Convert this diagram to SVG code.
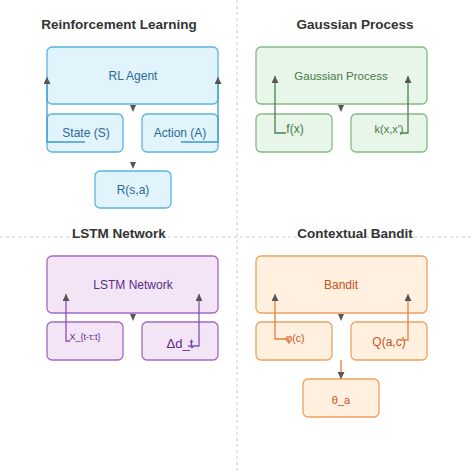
<svg xmlns="http://www.w3.org/2000/svg" width="474" height="474" viewBox="0 0 474 474">
<style>
.title{font-family:"Liberation Sans",Arial,sans-serif;font-size:13.5px;font-weight:bold;fill:#333;text-anchor:middle}
.t{font-family:"Liberation Sans",Arial,sans-serif;font-size:12px;text-anchor:middle;dominant-baseline:central}
.blue rect{fill:#e1f3fb;stroke:#5ab4e0;stroke-width:1.3}
.blue text{fill:#2a6a96}
.green rect{fill:#e8f5e9;stroke:#82bb85;stroke-width:1.3}
.green text{fill:#467a47}
.purple rect{fill:#f3e5f5;stroke:#a468c4;stroke-width:1.3}
.purple text{fill:#5b2c86}
.orange rect{fill:#fff0e0;stroke:#f0a05e;stroke-width:1.3}
.orange text{fill:#c4521c}
.div{stroke:#cccccc;stroke-width:1;stroke-dasharray:3,3;fill:none}
.c{fill:none;stroke-width:1.3;marker-end:url(#ah)}
.head{fill:#555}
</style>
<defs>
<marker id="ah" markerWidth="7" markerHeight="7" refX="7" refY="3.5" orient="auto" markerUnits="userSpaceOnUse">
<path d="M0,0 L7,3.5 L0,7 z" fill="#555"/>
</marker>
</defs>
<rect width="474" height="474" fill="#ffffff"/>
<g id="dividers">
<line class="div" x1="237" y1="0" x2="237" y2="474"/>
<line class="div" x1="0" y1="237" x2="474" y2="237"/>
</g>
<g id="titles">
<text class="title" x="119" y="29">Reinforcement Learning</text>
<text class="title" x="355" y="29">Gaussian Process</text>
<text class="title" x="119" y="238">LSTM Network</text>
<text class="title" x="355" y="238">Contextual Bandit</text>
</g>
<g id="rl-agent" class="blue"><rect x="47" y="47" width="171" height="57" rx="5"/><text class="t" x="133" y="76">RL Agent</text></g>
<g id="state" class="blue"><rect x="47" y="114" width="76" height="38" rx="5"/><text class="t" x="86" y="133">State (S)</text></g>
<g id="action" class="blue"><rect x="142" y="114" width="76" height="38" rx="5"/><text class="t" x="180" y="133">Action (A)</text></g>
<g id="reward" class="blue"><rect x="95" y="171" width="76" height="37" rx="5"/><text class="t" x="133" y="190">R(s,a)</text></g>
<g id="gp" class="green"><rect x="256" y="47" width="171" height="57" rx="5"/><text class="t" x="341" y="76" style="font-size:11.5px">Gaussian Process</text></g>
<g id="fx" class="green"><rect x="256" y="114" width="76" height="38" rx="5"/><text class="t" x="295" y="129">f(x)</text></g>
<g id="kxx" class="green"><rect x="351" y="114" width="76" height="38" rx="5"/><text class="t" x="389" y="129" style="font-size:11px">k(x,x')</text></g>
<g id="lstm" class="purple"><rect x="47" y="256" width="171" height="57" rx="5"/><text class="t" x="133" y="285">LSTM Network</text></g>
<g id="xin" class="purple"><rect x="47" y="322" width="76" height="38" rx="5"/><text class="t" x="85" y="337" style="font-size:9px">X_{t-τ:t}</text></g>
<g id="dd" class="purple"><rect x="142" y="322" width="76" height="38" rx="5"/><text class="t" x="180" y="343" style="font-size:13px">Δd_t</text></g>
<g id="bandit" class="orange"><rect x="256" y="256" width="171" height="57" rx="5"/><text class="t" x="341" y="285">Bandit</text></g>
<g id="phi" class="orange"><rect x="256" y="322" width="76" height="38" rx="5"/><text class="t" x="295" y="338" style="font-size:10.5px">φ(c)</text></g>
<g id="q" class="orange"><rect x="351" y="322" width="76" height="38" rx="5"/><text class="t" x="389" y="342">Q(a,c)</text></g>
<g id="theta" class="orange"><rect x="303" y="379" width="76" height="38" rx="5"/><text class="t" x="341" y="400" style="font-size:11px">θ_a</text></g>
<g id="connectors">
<path class="c" stroke="#3d9bd1" d="M85,142 H47 V77"/>
<path class="c" stroke="#3d9bd1" d="M181,142 H218 V77"/>
<polygon class="head" points="130,105 136,105 133,112"/>
<polygon class="head" points="130,162 136,162 133,169"/>
<path class="c" stroke="#4d7f4e" d="M286,133 H275 V76"/>
<path class="c" stroke="#4d7f4e" d="M400,133 H408 V76"/>
<polygon class="head" points="338,105 344,105 341,112"/>
<path class="c" stroke="#8a4fc0" d="M70,341 H66 V294"/>
<path class="c" stroke="#8a4fc0" d="M188,346 H199 V294"/>
<polygon class="head" points="130,314 136,314 133,321"/>
<path class="c" stroke="#f07a3a" d="M288,339 H275 V294"/>
<path class="c" stroke="#f07a3a" d="M400,340 H408 V294"/>
<polygon class="head" points="338,314 344,314 341,321"/>
<path class="c" stroke="#f07a3a" d="M341,360 V379"/>
</g>
</svg>
